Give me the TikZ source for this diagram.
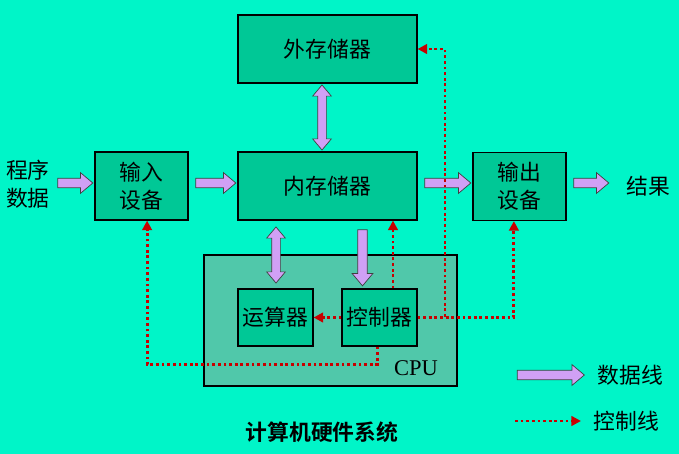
\documentclass[tikz,border=0pt]{standalone}
\usepackage{fontspec}
\setmainfont{Liberation Serif}
\newfontfamily\cjk{Noto Sans CJK SC}[BoldFont={Noto Sans CJK SC Bold}]
\usetikzlibrary{positioning,arrows.meta,calc,shapes.arrows}
\definecolor{bgteal}{RGB}{0,245,200}
\definecolor{unitfill}{RGB}{0,200,150}
\definecolor{cpufill}{RGB}{80,200,170}
\definecolor{dataviolet}{RGB}{208,160,245}
\definecolor{ctrlred}{RGB}{200,0,0}

\begin{document}
\begin{tikzpicture}[x=0.025cm,y=-0.025cm,
  every node/.style={font=\cjk\fontsize{15.5}{20}\selectfont},
  unit/.style={draw,fill=unitfill,line width=0.8pt,align=center,inner sep=0pt},
  fatarrow/.style={single arrow,draw=black!75,fill=dataviolet,line width=0.5pt,
    inner xsep=0pt,inner ysep=0.11cm,single arrow head extend=0.14cm,
    single arrow tip angle=80,single arrow head indent=0pt},
  fatdouble/.style={double arrow,draw=black!75,fill=dataviolet,line width=0.5pt,
    inner xsep=0pt,inner ysep=0.1cm,double arrow head extend=0.125cm,
    double arrow tip angle=80,double arrow head indent=0pt},
  ctrl/.style={ctrlred,line width=2pt,dash pattern=on 2pt off 2pt,
    -{Triangle[length=2.4mm,width=2.4mm]}}]
  \fill[bgteal] (0,0) rectangle (679,454);
  % units
  \node[unit,minimum width=4.475cm,minimum height=1.7cm] (ext) at (327.5,49) {外存储器};
  \node[unit,minimum width=4.475cm,minimum height=1.7cm] (mem) at (327.5,186) {内存储器};
  \node[unit,minimum width=2.325cm,minimum height=1.7cm] (inp) at (141.5,186) {输入\\设备};
  \node[unit,minimum width=2.325cm,minimum height=1.7cm] (outp) at (519.5,186.5) {输出\\设备};
  \node[draw,fill=cpufill,line width=0.8pt,minimum width=6.325cm,minimum height=3.275cm] (cpu) at (330.5,320.5) {};
  \node[font=\rmfamily\fontsize{16}{19}\selectfont] (cpulbl) at (416,368) {CPU};
  \node[unit,minimum width=1.875cm,minimum height=1.425cm] (alu) at (275.5,317.5) {运算器};
  \node[unit,minimum width=1.875cm,minimum height=1.425cm] (ctl) at (379.5,317.5) {控制器};
  \node[align=center,inner sep=0pt] (src) at (28,184) {程序\\数据};
  \node (res) at (648,186) {结果};
  % data paths
  \node[fatarrow,minimum height=0.875cm] (d1) at (72.5,183) {};
  \node[fatarrow,minimum height=1cm] (d2) at (213,183) {};
  \node[fatarrow,minimum height=1.15cm] (d3) at (445,183) {};
  \node[fatarrow,minimum height=0.875cm] (d4) at (588.5,183) {};
  \node[fatdouble,minimum height=1.625cm,rotate=90] (d5) at (322,117.5) {};
  \node[fatdouble,minimum height=1.4cm,rotate=90] (d6) at (276,255) {};
  \node[fatarrow,minimum height=1.4cm,rotate=-90] (d7) at (362.5,255) {};
  % control paths
  \coordinate (up) at (393,0);
  \coordinate (bus) at (445,0);
  \draw[ctrl] (ctl.north -| up) -- (mem.south -| up);
  \draw[ctrl] (ctl.east) -- (ctl.east -| bus) |- (ext.east);
  \draw[ctrl] (ctl.east) -| ([xshift=-0.14cm]outp.south);
  \draw[ctrl] (ctl.west) -- (alu.east);
  \draw[ctrl] ([xshift=-0.06cm]ctl.south) -- ++(0,18) -| ([xshift=0.14cm]inp.south);
  % legend
  \node[fatarrow,minimum height=1.675cm] (legdata) at (548,375) {};
  \node[right=0.2cm of legdata] {数据线};
  \coordinate (legA) at (515,421);
  \coordinate (legB) at (581,421);
  \draw[ctrl] (legA) -- (legB);
  \node[right=0.2cm of legB] {控制线};
  \node[font=\cjk\bfseries\fontsize{15.5}{20}\selectfont] (title) at (322,432) {计算机硬件系统};
\end{tikzpicture}
\end{document}
